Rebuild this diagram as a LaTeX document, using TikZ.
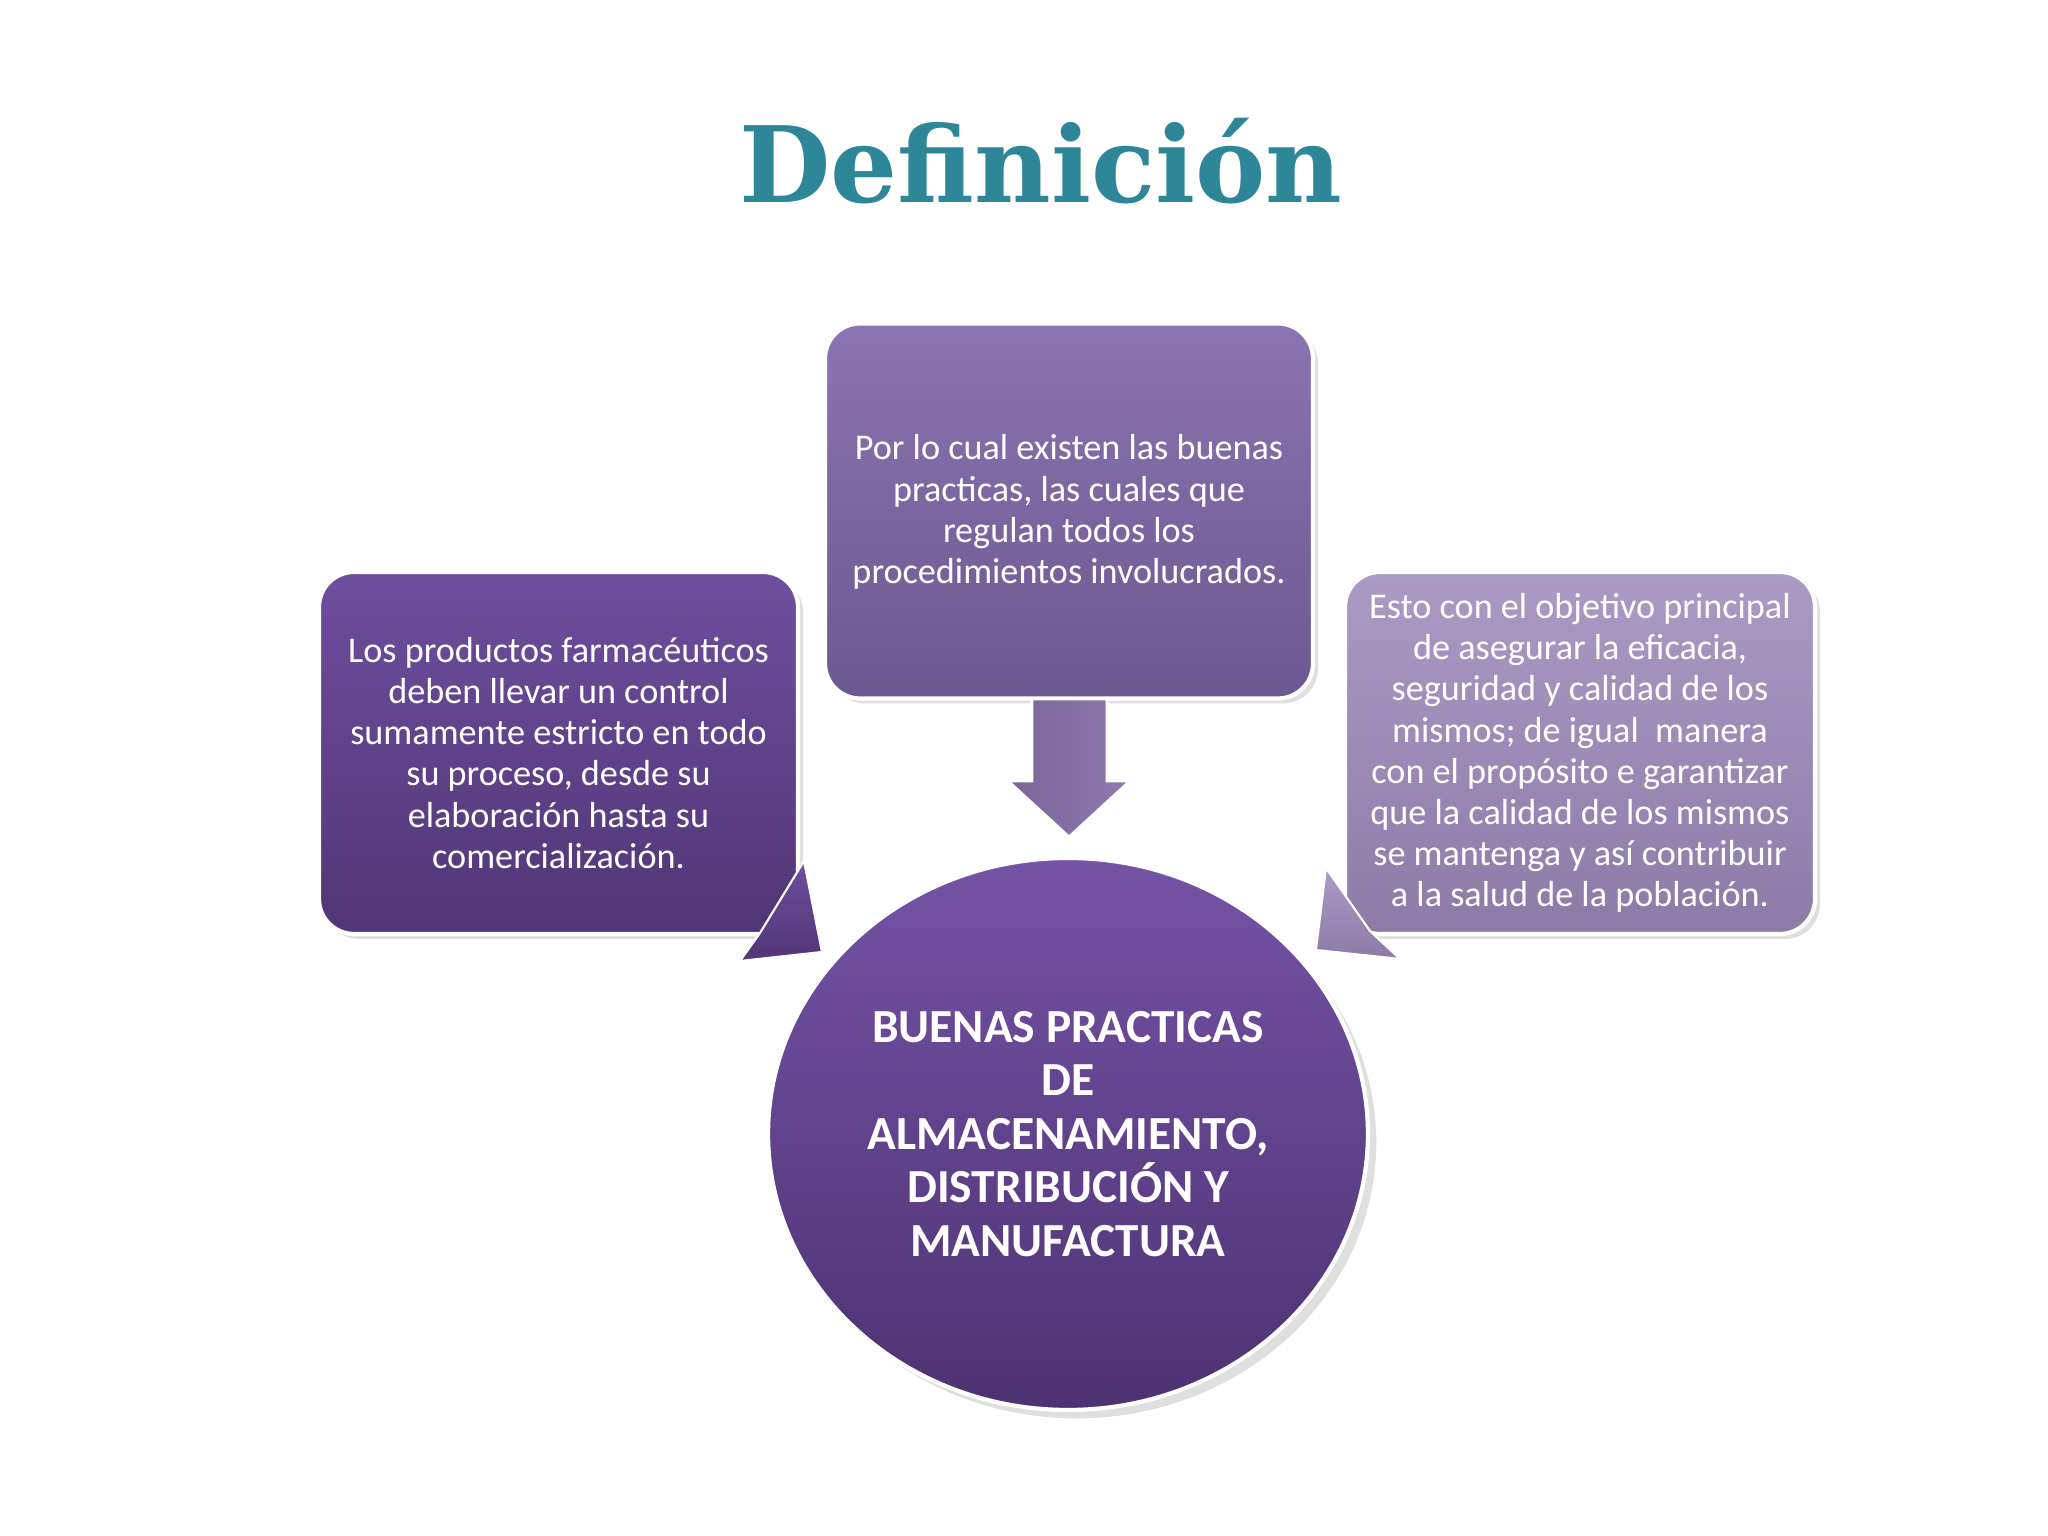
\documentclass[tikz,border=0pt]{standalone}
\usepackage{fontspec}
\setmainfont{Carlito}
\newfontfamily\titlefont{DejaVu Serif}
\usetikzlibrary{shapes.geometric,shadows}
\definecolor{teal1}{HTML}{2E8799}
\definecolor{tA}{HTML}{8B74B2}\definecolor{tB}{HTML}{6C5890}
\definecolor{lA}{HTML}{6E4E9E}\definecolor{lB}{HTML}{513676}
\definecolor{rA}{HTML}{AA9AC4}\definecolor{rB}{HTML}{8C7BA6}
\definecolor{cA}{HTML}{7553A6}\definecolor{cB}{HTML}{4D3272}
\definecolor{aA}{HTML}{7A6498}\definecolor{aB}{HTML}{8F7AAE}
\tikzset{
 pbox/.style={rounded corners=0.35cm, draw=white, line width=1.2pt, drop shadow={opacity=0.25,shadow xshift=0.05cm,shadow yshift=-0.05cm}, text=white, align=center, font=\fontsize{10.3}{11.7}\selectfont, inner sep=0pt},
 ptr/.style={draw=white, line width=0.6pt}
}
\begin{document}
\begin{tikzpicture}
\useasboundingbox (0,0) rectangle (20.48,15.36);
\node[font=\titlefont\bfseries\fontsize{30}{36}\selectfont, text=teal1] (title) at (10.41,13.75) {Definición};
\node[pbox, top color=tA, bottom color=tB, minimum width=4.88cm, minimum height=3.75cm] (top) at (10.69,10.25) {};
\node[text=white, align=center, font=\fontsize{10.3}{11.7}\selectfont] (toptext) at (10.69,10.24) {Por lo cual existen las buenas\\practicas, las cuales que\\regulan todos los\\procedimientos involucrados.};
\node[pbox, top color=lA, bottom color=lB, minimum width=4.79cm, minimum height=3.62cm] (left) at (5.585,7.83) {Los productos farmacéuticos\\deben llevar un control\\sumamente estricto en todo\\su proceso, desde su\\elaboración hasta su\\comercialización.};
\node[pbox, top color=rA, bottom color=rB, minimum width=4.70cm, minimum height=3.62cm] (right) at (15.80,7.83) {Esto con el objetivo principal\\de asegurar la eficacia,\\seguridad y calidad de los\\mismos; de igual\ \ manera\\con el propósito e garantizar\\que la calidad de los mismos\\se mantenga y así contribuir\\a la salud de la población.};
\node[ellipse, draw=white, line width=1.2pt, top color=cA, bottom color=cB, minimum width=5.88cm, minimum height=5.52cm, drop shadow={opacity=0.25}, text=white, align=center, font=\bfseries\fontsize{13.5}{15.2}\selectfont] (circ) at (10.68,4.02) {BUENAS PRACTICAS\\DE\\ALMACENAMIENTO,\\DISTRIBUCIÓN Y\\MANUFACTURA};
% down arrow
\fill[left color=aA, right color=aB, draw=white, line width=0.8pt]
 (10.32,8.37) -- (10.32,7.55) -- (10.08,7.55) -- (10.69,6.99) -- (11.30,7.55) -- (11.07,7.55) -- (11.07,8.37) -- cycle;
% left pointer
\fill[ptr, top color=lA, bottom color=lB] (7.40,5.75) -- (8.22,5.84) -- (8.04,6.75) -- (7.60,6.03) -- cycle;
% right pointer
\fill[ptr, top color=rA, bottom color=rB] (14.00,5.77) -- (13.16,5.86) -- (13.26,6.68) -- (13.70,6.05) -- cycle;
\end{tikzpicture}
\end{document}
